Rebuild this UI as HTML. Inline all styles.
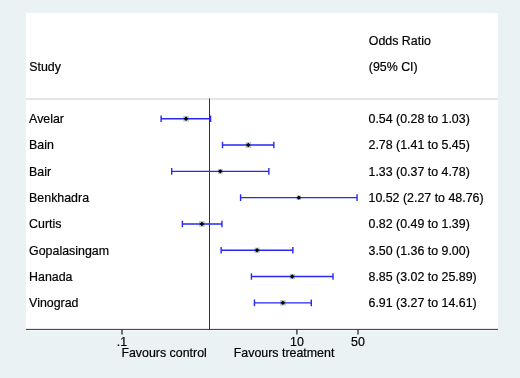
<!DOCTYPE html>
<html><head><meta charset="utf-8"><title>Forest plot</title>
<style>
html,body{margin:0;padding:0;background:#eaf2f3;}
body{width:520px;height:378px;overflow:hidden;}
svg{display:block;}
text{font-family:"Liberation Sans",Arial,Helvetica,sans-serif;font-size:12.4px;fill:#000;stroke:#000;stroke-width:0.2px;}
</style></head><body>
<svg width="520" height="378" viewBox="0 0 520 378">
<rect x="0" y="0" width="520" height="378" fill="#eaf2f3"/>
<rect x="25.9" y="13" width="472.1" height="317.6" fill="#ffffff"/>
<line x1="26" y1="99" x2="498" y2="99" stroke="#dddddd" stroke-width="1.5"/>
<line x1="209.5" y1="98.6" x2="209.5" y2="329.4" stroke="#333" stroke-width="1"/>
<line x1="26" y1="329.4" x2="498" y2="329.4" stroke="#333" stroke-width="1"/>

<line x1="122.00" y1="329.4" x2="122.00" y2="334.6" stroke="#2a2a2a" stroke-width="1.3"/>
<line x1="296.90" y1="329.4" x2="296.90" y2="334.6" stroke="#2a2a2a" stroke-width="1.3"/>
<line x1="358.02" y1="329.4" x2="358.02" y2="334.6" stroke="#2a2a2a" stroke-width="1.3"/>
<text x="122.00" y="345.9" text-anchor="middle">.1</text>
<text x="296.90" y="345.9" text-anchor="middle">10</text>
<text x="358.02" y="345.9" text-anchor="middle">50</text>
<text x="121.4" y="357.2">Favours control</text>
<text x="233.8" y="357.1">Favours treatment</text>
<text x="29.2" y="70.6">Study</text>
<text x="368.8" y="44.6">Odds Ratio</text>
<text x="368.8" y="70.65">(95% CI)</text>
<text x="29.1" y="123.40">Avelar</text>
<text x="368.5" y="123.40">0.54 (0.28 to 1.03)</text>
<rect x="183.25" y="115.95" width="5.60" height="5.60" fill="#b4c9c1"/>
<path d="M161.10 118.75H210.57M161.10 115.45v6.6M210.57 115.45v6.6" stroke="#2828f4" stroke-width="1.4" fill="none"/>
<path d="M186.05 116.55l2.2 2.2l-2.2 2.2l-2.2 -2.2z" fill="#000"/>
<text x="29.1" y="149.10">Bain</text>
<text x="368.5" y="149.10">2.78 (1.41 to 5.45)</text>
<rect x="245.51" y="142.28" width="5.55" height="5.55" fill="#b4c9c1"/>
<path d="M222.50 145.05H273.85M222.50 141.75v6.6M273.85 141.75v6.6" stroke="#2828f4" stroke-width="1.4" fill="none"/>
<path d="M248.28 142.85l2.2 2.2l-2.2 2.2l-2.2 -2.2z" fill="#000"/>
<text x="29.1" y="175.80">Bair</text>
<text x="368.5" y="175.80">1.33 (0.37 to 4.78)</text>
<rect x="217.83" y="168.90" width="4.90" height="4.90" fill="#b4c9c1"/>
<path d="M171.69 171.35H268.87M171.69 168.05v6.6M268.87 168.05v6.6" stroke="#2828f4" stroke-width="1.4" fill="none"/>
<path d="M220.28 169.15l2.2 2.2l-2.2 2.2l-2.2 -2.2z" fill="#000"/>
<text x="29.1" y="202.30">Benkhadra</text>
<text x="368.5" y="202.30">10.52 (2.27 to 48.76)</text>
<rect x="296.58" y="195.40" width="4.50" height="4.50" fill="#b4c9c1"/>
<path d="M240.58 197.65H357.07M240.58 194.35v6.6M357.07 194.35v6.6" stroke="#2828f4" stroke-width="1.4" fill="none"/>
<path d="M298.83 195.45l2.2 2.2l-2.2 2.2l-2.2 -2.2z" fill="#000"/>
<text x="29.1" y="228.20">Curtis</text>
<text x="368.5" y="228.20">0.82 (0.49 to 1.39)</text>
<rect x="199.06" y="221.10" width="5.70" height="5.70" fill="#b4c9c1"/>
<path d="M182.36 223.95H221.96M182.36 220.65v6.6M221.96 220.65v6.6" stroke="#2828f4" stroke-width="1.4" fill="none"/>
<path d="M201.91 221.75l2.2 2.2l-2.2 2.2l-2.2 -2.2z" fill="#000"/>
<text x="29.1" y="254.50">Gopalasingam</text>
<text x="368.5" y="254.50">3.50 (1.36 to 9.00)</text>
<rect x="254.38" y="247.60" width="5.30" height="5.30" fill="#b4c9c1"/>
<path d="M221.13 250.25H292.90M221.13 246.95v6.6M292.90 246.95v6.6" stroke="#2828f4" stroke-width="1.4" fill="none"/>
<path d="M257.03 248.05l2.2 2.2l-2.2 2.2l-2.2 -2.2z" fill="#000"/>
<text x="29.1" y="281.10">Hanada</text>
<text x="368.5" y="281.10">8.85 (3.02 to 25.89)</text>
<rect x="289.69" y="273.98" width="5.15" height="5.15" fill="#b4c9c1"/>
<path d="M251.43 276.55H333.03M251.43 273.25v6.6M333.03 273.25v6.6" stroke="#2828f4" stroke-width="1.4" fill="none"/>
<path d="M292.26 274.35l2.2 2.2l-2.2 2.2l-2.2 -2.2z" fill="#000"/>
<text x="29.1" y="306.75">Vinograd</text>
<text x="368.5" y="306.75">6.91 (3.27 to 14.61)</text>
<rect x="280.11" y="300.10" width="5.50" height="5.50" fill="#b4c9c1"/>
<path d="M254.45 302.85H311.30M254.45 299.55v6.6M311.30 299.55v6.6" stroke="#2828f4" stroke-width="1.4" fill="none"/>
<path d="M282.86 300.65l2.2 2.2l-2.2 2.2l-2.2 -2.2z" fill="#000"/>
</svg></body></html>
